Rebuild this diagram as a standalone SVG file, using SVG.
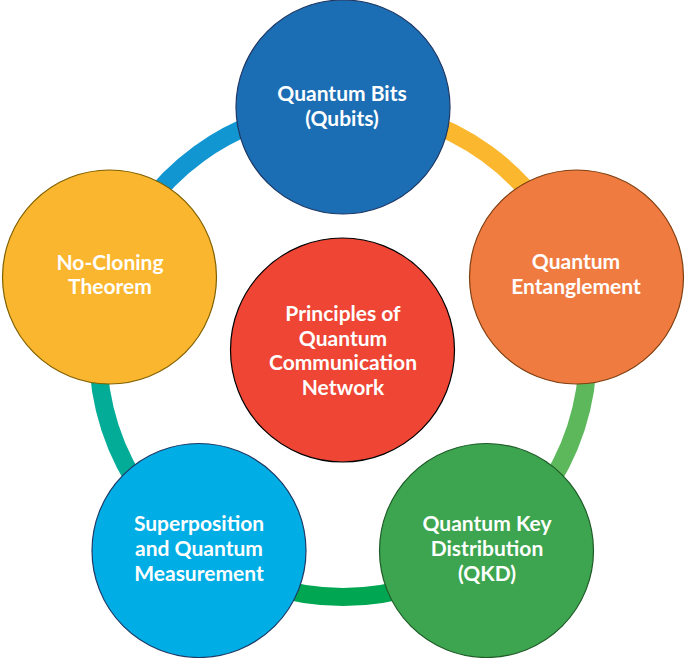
<svg xmlns="http://www.w3.org/2000/svg" width="685" height="658" viewBox="0 0 685 658">
<style>
.ring{fill:none;stroke-width:18;}
.node circle{stroke-width:1.2;}
.lbl{font-family:Lato,"Open Sans","Liberation Sans",sans-serif;font-weight:bold;font-size:21px;fill:#ffffff;text-anchor:middle;}
</style>
<rect width="685" height="658" fill="#ffffff"/>
<g id="connectors">
<path class="ring" stroke="#FBB82E" d="M343,107 A245,245 0 0 1 576,276.3"/>
<path class="ring" stroke="#5DB85C" d="M576,276.3 A245,245 0 0 1 487,550.2"/>
<path class="ring" stroke="#00A651" d="M487,550.2 A245,245 0 0 1 199,550.2"/>
<path class="ring" stroke="#02AC97" d="M199,550.2 A245,245 0 0 1 110,276.3"/>
<path class="ring" stroke="#1196D1" d="M110,276.3 A245,245 0 0 1 343,107"/>
</g>
<g id="center" class="node">
<circle cx="342.5" cy="350" r="112" fill="#EE4534" stroke="#000000"/>
<text class="lbl" x="343" y="321">Principles of</text>
<text class="lbl" x="343" y="345.5">Quantum</text>
<text class="lbl" x="343" y="370">Communication</text>
<text class="lbl" x="343" y="395">Network</text>
</g>
<g id="qubits" class="node">
<circle cx="343" cy="107" r="107" fill="#1B6DB4" stroke="#1F3864"/>
<text class="lbl" x="342" y="101">Quantum Bits</text>
<text class="lbl" x="342" y="126">(Qubits)</text>
</g>
<g id="entanglement" class="node">
<circle cx="576.5" cy="277" r="107" fill="#EF7B41" stroke="#7F3F10"/>
<text class="lbl" x="576" y="269">Quantum</text>
<text class="lbl" x="576" y="294">Entanglement</text>
</g>
<g id="qkd" class="node">
<circle cx="486.5" cy="550.5" r="107" fill="#3DA54F" stroke="#1E5B27"/>
<text class="lbl" x="487" y="531">Quantum Key</text>
<text class="lbl" x="487" y="556">Distribution</text>
<text class="lbl" x="487" y="581">(QKD)</text>
</g>
<g id="superposition" class="node">
<circle cx="199" cy="550.5" r="107" fill="#00AEE5" stroke="#1F3864"/>
<text class="lbl" x="199" y="531">Superposition</text>
<text class="lbl" x="199" y="556">and Quantum</text>
<text class="lbl" x="199" y="581">Measurement</text>
</g>
<g id="nocloning" class="node">
<circle cx="109.5" cy="277" r="107" fill="#FAB62E" stroke="#7F6000"/>
<text class="lbl" x="110" y="270">No-Cloning</text>
<text class="lbl" x="110" y="294">Theorem</text>
</g>
</svg>
